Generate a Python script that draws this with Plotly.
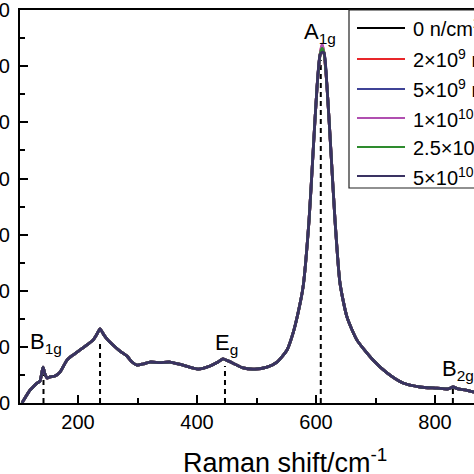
import plotly.graph_objects as go

# ---- data ----
raman_shift = [105.9, 110.9, 119.3, 124.4, 131.1, 136.1, 141.2, 144.5, 147.9, 152.9,
               161.3, 169.7, 181.5, 191.6, 203.4, 215.1, 225.2, 231.9, 237.0, 243.7,
               250.4, 258.8, 270.6, 282.4, 290.8, 299.2, 309.2, 321.0, 337.8, 354.6,
               376.5, 401.7, 421.9, 435.3, 443.7, 452.1, 460.5, 477.3, 497.5, 517.6,
               534.5, 551.3, 561.4, 569.8, 578.2, 588.3, 595.0, 601.7, 606.7, 610.1,
               613.5, 618.5, 625.2, 631.9, 640.3, 652.1, 668.9, 695.8, 719.3,
               746.2, 774.8, 803.4, 821.9, 830.3, 838.7, 852.1, 865.6]

base = [0, 18, 46, 57, 71, 78, 128, 103, 89, 93,
        96, 110, 153, 171, 189, 207, 224, 246, 264, 242,
        224, 207, 185, 167, 146, 135, 139, 146, 144, 146,
        135, 121, 132, 146, 157, 150, 142, 125, 121, 128,
        146, 189, 249, 321, 413, 652, 891, 1126, 1240, None,
        1247, 1126, 891, 652, 427, 306, 224, 153, 107,
        71, 57, 53, 50, 57, 50, 46, 39]

labels = ["0 n/cm<sup>2</sup>", "2×10<sup>9</sup> n/cm<sup>2</sup>", "5×10<sup>9</sup> n/cm<sup>2</sup>",
          "1×10<sup>10</sup> n/cm<sup>2</sup>", "2.5×10<sup>10</sup> n/cm<sup>2</sup>",
          "5×10<sup>10</sup> n/cm<sup>2</sup>"]
colors = ["#000000", "#e8262a", "#3f4396", "#b04fb0", "#2e8b2e", "#3a3262"]
a1g_peak = [1262, 1275, 1255, 1280, 1264, 1250]

spectra = []
for p in a1g_peak:
    s = list(base)
    s[49] = p
    spectra.append(s)

y_ticks = [0, 200, 400, 600, 800, 1000, 1200, 1400]
x_ticks = [200, 400, 600, 800]

peak_pos = [142, 237, 447, 608, 830]
peak_dash_top = [107, 224, 132, 1222, 57]
mode_labels = ["B<sub>1g</sub>", "E<sub>g</sub>", "A<sub>1g</sub>", "B<sub>2g</sub>"]
mode_label_x = [146, 449, 607, 838]
mode_label_y = [214, 210, 1318, 118]

FONT = "Liberation Sans, Arial"

fig = go.Figure()
for lab, col, s in zip(labels, colors, spectra):
    fig.add_trace(go.Scatter(x=raman_shift, y=s, mode="lines", name=lab, showlegend=False,
                             line=dict(color=col, width=2.8, shape="spline", smoothing=0.6)))

for xp, yt in zip(peak_pos, peak_dash_top):
    fig.add_shape(type="line", xref="x", yref="y", x0=xp, x1=xp, y0=0, y1=yt,
                  line=dict(color="black", width=2, dash="5px,4px"), layer="below")

for t, xa, ya in zip(mode_labels, mode_label_x, mode_label_y):
    fig.add_annotation(x=xa, y=ya, xref="x", yref="y", text=t, showarrow=False,
                       font=dict(size=22, color="black", family=FONT),
                       xanchor="center", yanchor="middle")

# ---- helpers: pixel position inside the 474px figure -> paper coordinates ----
W_PLOT, H_PLOT, L, T = 454.0, 393.0, 20.0, 10.0
def px(xp):
    return (xp - L) / W_PLOT
def py(yp):
    return (T + H_PLOT - yp) / H_PLOT

# x-axis title (the source figure is cropped on the right, so its title is off-centre)
fig.add_annotation(x=px(285), y=py(461), xref="paper", yref="paper",
                   text="Raman shift/cm<sup>-1</sup>", showarrow=False,
                   xanchor="center", yanchor="middle",
                   font=dict(size=27, color="black", family=FONT))

# ---- legend box (drawn as shapes + text, clipped by the right edge like the source) ----
fig.add_shape(type="rect", xref="paper", yref="paper", x0=px(349), x1=px(520),
              y0=py(188), y1=py(10), line=dict(color="#222222", width=1.2),
              fillcolor="white", layer="above")
legend_rows = [28, 59, 89, 118, 147, 176]
for lab, col, yr in zip(labels, colors, legend_rows):
    fig.add_shape(type="line", xref="paper", yref="paper", x0=px(357), x1=px(405),
                  y0=py(yr), y1=py(yr), line=dict(color=col, width=2), layer="above")
    fig.add_annotation(x=px(411), y=py(yr), xref="paper", yref="paper", text=lab,
                       showarrow=False, xanchor="left", yanchor="middle",
                       font=dict(size=20, color="black", family=FONT))

axis_common = dict(showline=True, linecolor="black", linewidth=2, ticks="inside",
                   ticklen=8, tickwidth=2, tickcolor="black", showgrid=False, zeroline=False,
                   automargin=False, ticklabeloverflow="allow",
                   tickfont=dict(size=20, color="black", family=FONT),
                   minor=dict(ticks="inside", ticklen=5, tickwidth=2, tickcolor="black"))

fig.update_xaxes(range=[102.5, 865.5], tickvals=x_ticks, mirror=True,
                 minor_tickvals=[300, 500, 700], **axis_common)
fig.update_yaxes(range=[0, 1400.6], tickvals=y_ticks,
                 minor_tickvals=list(range(100, 1400, 200)), mirror=False,
                 ticklabelstandoff=4, **axis_common)

fig.update_layout(
    width=474, height=474,
    margin=dict(l=20, r=0, t=10, b=71, autoexpand=False),
    plot_bgcolor="white", paper_bgcolor="white",
    showlegend=False,
)

fig.write_html("out.html")
